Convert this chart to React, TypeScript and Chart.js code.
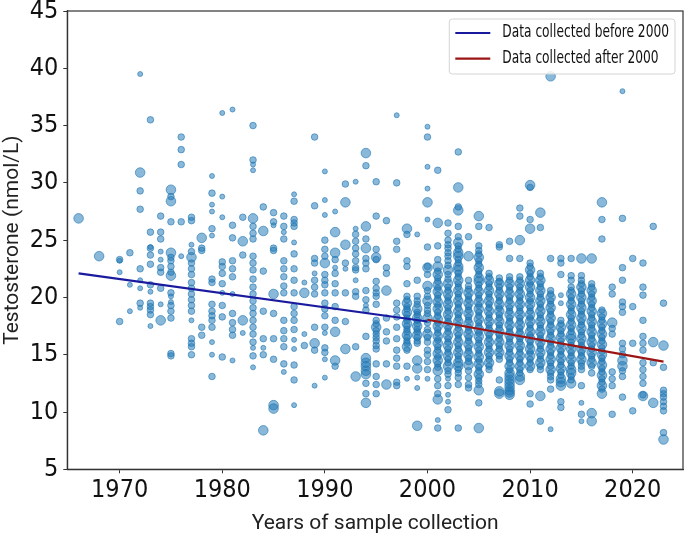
import { useEffect, useRef } from 'react';
import Chart from 'chart.js/auto';

// testosterone (nmol/L) per study, grouped by year of sample collection
// each entry: [value, study size class 1..3]
const studiesByYear: Record<number, [number, number][]> = {
  1966: [[26.9, 3]],
  1968: [[23.6, 3]],
  1970: [[23.3, 2], [23.2, 1], [22.2, 1], [17.9, 2]],
  1971: [[23.9, 2], [21.1, 1], [18.8, 1]],
  1972: [[39.5, 1], [30.9, 3], [29.3, 2], [27.7, 2], [22.5, 2], [21.5, 1], [20.8, 1], [19.5, 2], [19.1, 1]],
  1973: [[35.5, 2], [25.7, 2], [24.4, 1], [24.3, 2], [23.7, 2], [22.9, 2], [21.1, 2], [20.5, 1], [19.5, 2], [19.2, 2], [18.9, 2], [18.5, 2], [17.5, 1]],
  1974: [[27.1, 2], [25.7, 2], [25.1, 2], [24.0, 1], [23.3, 1], [22.6, 2], [22.2, 2], [20.8, 2], [19.4, 1], [18.0, 3]],
  1975: [[29.4, 3], [28.8, 2], [28.4, 3], [26.6, 2], [23.9, 3], [23.5, 2], [23.2, 2], [22.7, 2], [22.2, 2], [21.9, 3], [20.4, 2], [20.1, 1], [19.6, 1], [19.3, 2], [18.8, 2], [18.2, 2], [15.1, 2], [14.9, 2]],
  1976: [[34.0, 2], [32.9, 2], [31.6, 2], [26.6, 2], [23.6, 1]],
  1977: [[27.0, 2], [26.7, 2], [24.6, 1], [24.0, 2], [23.5, 3], [23.0, 2], [22.5, 2], [22.0, 2], [21.3, 2], [20.8, 2], [20.3, 2], [19.8, 2], [19.3, 2], [18.8, 2], [18.0, 1], [16.4, 2], [16.0, 2], [15.7, 2], [15.0, 2]],
  1978: [[25.2, 3], [24.3, 2], [24.1, 2], [17.4, 2], [16.7, 2]],
  1979: [[30.6, 1], [29.1, 2], [28.1, 1], [27.5, 1], [26.0, 2], [25.4, 1], [21.6, 2], [21.3, 2], [19.4, 2], [18.8, 2], [18.4, 2], [18.0, 2], [17.4, 2], [16.1, 1], [15.0, 1], [13.1, 2]],
  1980: [[36.1, 1], [28.8, 1], [27.0, 1], [23.1, 2], [22.7, 2], [22.1, 2], [21.2, 2], [20.4, 1], [19.3, 2], [18.3, 2], [14.8, 2]],
  1981: [[36.4, 1], [26.3, 2], [25.2, 2], [23.2, 2], [22.5, 2], [21.8, 2], [20.3, 1], [18.6, 2], [17.8, 2], [17.2, 2], [16.7, 2], [14.5, 1]],
  1982: [[27.0, 2], [24.9, 3], [23.7, 2], [18.0, 3], [16.9, 1]],
  1983: [[35.0, 2], [32.0, 2], [31.6, 1], [31.1, 1], [26.9, 3], [26.2, 2], [25.6, 2], [25.1, 2], [23.6, 2], [23.0, 2], [22.4, 2], [21.6, 2], [20.9, 2], [20.3, 2], [19.7, 2], [19.1, 2], [18.6, 2], [18.0, 2], [17.4, 2], [16.8, 2], [16.1, 2], [15.6, 1], [14.9, 2], [13.9, 1]],
  1984: [[27.9, 2], [25.8, 3], [22.3, 2], [18.8, 2], [16.4, 2], [15.6, 1], [15.0, 2], [8.4, 3]],
  1985: [[27.4, 2], [26.6, 2], [26.3, 1], [24.3, 2], [24.1, 2], [20.3, 3], [18.6, 2], [16.4, 2], [14.6, 2], [10.6, 3], [10.3, 3]],
  1986: [[27.1, 2], [26.2, 2], [25.7, 1], [25.1, 2], [23.2, 2], [22.5, 2], [21.8, 2], [21.0, 2], [20.4, 2], [18.0, 2], [17.1, 2], [16.4, 2], [15.7, 2], [14.2, 2], [13.5, 1]],
  1987: [[29.0, 1], [28.4, 2], [26.8, 2], [26.5, 2], [26.2, 2], [24.8, 1], [23.8, 2], [22.5, 2], [21.5, 2], [20.4, 2], [19.2, 2], [18.6, 2], [18.0, 2], [17.2, 2], [16.3, 1], [15.5, 1], [14.1, 2], [12.8, 2], [10.6, 1]],
  1988: [[21.3, 1], [20.4, 3], [16.8, 1], [15.8, 2]],
  1989: [[34.0, 2], [28.0, 2], [23.4, 2], [23.0, 2], [22.1, 1], [21.5, 2], [20.9, 2], [20.3, 2], [17.4, 2], [16.0, 3], [15.4, 2], [12.3, 1]],
  1990: [[31.0, 1], [28.5, 1], [27.2, 1], [25.0, 2], [24.2, 2], [23.6, 2], [23.0, 3], [22.0, 2], [21.5, 2], [21.1, 2], [20.4, 2], [19.5, 2], [19.0, 2], [18.4, 2], [17.4, 2], [16.9, 1], [15.6, 2], [15.2, 2], [14.6, 1], [13.0, 1]],
  1991: [[27.5, 1], [25.7, 3], [23.9, 3], [23.3, 2], [22.6, 1], [22.1, 2], [21.2, 2], [20.4, 2], [19.2, 2], [18.0, 2], [17.0, 3], [14.5, 3], [14.0, 2]],
  1992: [[29.9, 2], [28.3, 3], [24.6, 3], [23.0, 2], [22.5, 1], [20.4, 2], [17.9, 2], [15.5, 3]],
  1993: [[30.1, 1], [26.0, 1], [25.5, 2], [24.9, 2], [24.3, 2], [23.8, 2], [23.2, 2], [22.6, 2], [22.4, 2], [21.5, 1], [20.5, 2], [20.1, 2], [15.7, 2], [13.1, 3]],
  1994: [[32.6, 3], [31.5, 2], [26.2, 3], [25.1, 2], [24.3, 3], [23.4, 2], [23.0, 2], [22.5, 2], [20.6, 2], [19.8, 2], [19.3, 1], [18.9, 2], [16.6, 2], [14.7, 3], [14.3, 3], [14.0, 3], [13.6, 3], [13.3, 3], [12.5, 2], [11.6, 2], [10.8, 3]],
  1995: [[30.1, 2], [27.1, 2], [24.2, 2], [23.5, 3], [23.3, 2], [21.4, 2], [20.8, 2], [20.4, 2], [20.1, 2], [19.4, 2], [18.0, 2], [17.7, 2], [17.4, 3], [17.1, 2], [16.8, 2], [16.5, 2], [16.2, 2], [15.8, 2], [15.5, 2], [14.2, 2], [13.1, 2], [12.4, 2], [11.6, 2]],
  1996: [[26.7, 2], [22.6, 2], [22.1, 2], [20.6, 3], [18.2, 2], [17.0, 2], [16.2, 2], [14.2, 2], [12.4, 3]],
  1997: [[35.9, 1], [30.0, 2], [24.9, 2], [24.2, 2], [19.5, 2], [18.9, 2], [18.3, 2], [17.4, 2], [16.4, 2], [15.4, 2], [14.7, 2], [14.0, 2], [12.6, 2], [12.3, 2]],
  1998: [[26.0, 3], [25.5, 2], [23.2, 2], [22.7, 2], [21.2, 2], [20.1, 2], [19.8, 2], [19.5, 3], [19.2, 2], [19.0, 2], [18.7, 3], [18.5, 2], [18.2, 2], [18.0, 2], [17.7, 3], [17.5, 2], [17.2, 2], [17.0, 2], [16.7, 3], [16.5, 2], [16.2, 2], [16.0, 2], [15.7, 3], [15.4, 2], [14.0, 2], [12.9, 1]],
  1999: [[25.5, 1], [21.5, 2], [20.1, 2], [19.7, 2], [19.4, 2], [19.0, 3], [18.7, 2], [18.5, 2], [18.2, 3], [18.0, 2], [17.7, 2], [17.5, 3], [17.2, 2], [17.0, 2], [16.7, 3], [16.5, 2], [16.2, 2], [16.0, 2], [14.5, 3], [13.8, 3], [13.0, 1], [12.1, 1], [8.8, 3]],
  2000: [[34.9, 1], [34.0, 2], [31.4, 1], [29.5, 1], [28.3, 3], [26.8, 1], [24.4, 2], [22.7, 2], [22.6, 3], [22.0, 2], [21.0, 3], [20.6, 2], [20.1, 2], [19.7, 3], [19.3, 2], [18.9, 2], [18.6, 2], [18.2, 3], [17.8, 2], [17.2, 2], [16.8, 3], [16.5, 2], [16.1, 2], [15.4, 2], [15.0, 2], [14.4, 2], [13.7, 2], [12.9, 1]],
  2001: [[31.1, 2], [26.5, 3], [24.5, 2], [23.3, 2], [22.7, 3], [22.3, 2], [22.0, 3], [21.7, 2], [21.4, 2], [21.1, 3], [20.8, 2], [20.5, 3], [20.2, 2], [19.9, 2], [19.6, 3], [19.3, 2], [19.0, 3], [18.7, 2], [18.4, 2], [18.1, 3], [17.8, 2], [17.5, 3], [17.2, 2], [16.9, 2], [16.6, 3], [16.3, 2], [16.0, 3], [15.7, 2], [15.4, 2], [15.1, 3], [14.8, 2], [14.5, 3], [14.2, 2], [13.9, 2], [13.6, 3], [12.9, 2], [12.3, 2], [11.6, 2], [11.1, 3], [9.3, 1], [8.6, 2]],
  2002: [[26.5, 2], [25.6, 2], [25.0, 2], [24.6, 2], [24.3, 2], [23.9, 2], [23.6, 2], [23.2, 2], [22.8, 2], [22.4, 3], [22.0, 2], [21.6, 2], [21.2, 3], [20.9, 2], [20.6, 2], [20.3, 3], [20.0, 2], [19.7, 2], [19.4, 3], [19.1, 2], [18.8, 2], [18.5, 3], [18.2, 2], [17.9, 2], [17.6, 3], [17.3, 2], [17.0, 2], [16.7, 3], [16.4, 2], [16.1, 2], [15.8, 3], [15.5, 2], [15.2, 2], [14.9, 3], [14.6, 2], [14.3, 2], [14.0, 3], [13.6, 2], [13.3, 2], [12.9, 1], [12.3, 2], [11.5, 1], [10.9, 1], [10.2, 2]],
  2003: [[32.7, 2], [29.6, 3], [27.9, 2], [27.6, 3], [26.2, 2], [25.3, 2], [24.8, 3], [24.5, 2], [24.2, 2], [23.9, 3], [23.6, 3], [23.3, 2], [23.0, 2], [22.7, 3], [22.4, 3], [22.1, 2], [21.8, 2], [21.5, 3], [21.2, 2], [20.9, 2], [20.6, 3], [20.3, 2], [20.0, 2], [19.7, 3], [19.4, 2], [19.1, 2], [18.8, 3], [18.5, 2], [18.2, 2], [17.9, 3], [17.6, 2], [17.3, 2], [17.0, 3], [16.7, 2], [16.4, 2], [16.1, 3], [15.8, 2], [15.5, 2], [15.2, 3], [14.9, 2], [14.6, 2], [14.3, 3], [14.0, 3], [13.7, 2], [13.4, 2], [13.0, 2], [12.4, 2], [8.6, 2]],
  2004: [[25.3, 2], [23.6, 3], [21.5, 2], [21.0, 2], [20.7, 2], [20.4, 3], [20.1, 2], [19.8, 2], [19.5, 3], [19.2, 2], [18.9, 2], [18.6, 3], [18.3, 2], [18.0, 2], [17.7, 3], [17.4, 2], [17.1, 2], [16.8, 3], [16.5, 2], [16.2, 2], [15.9, 3], [15.6, 2], [15.3, 2], [15.0, 3], [14.7, 2], [14.4, 2], [14.1, 3], [13.6, 2], [13.0, 2], [12.4, 2], [12.1, 2]],
  2005: [[27.1, 3], [26.2, 2], [24.5, 2], [24.1, 2], [23.8, 2], [23.5, 3], [23.2, 2], [22.9, 2], [22.6, 3], [22.3, 2], [22.0, 2], [21.7, 3], [21.4, 3], [21.1, 2], [20.8, 2], [20.5, 3], [20.2, 2], [19.9, 2], [19.6, 3], [19.3, 2], [19.0, 3], [18.7, 2], [18.4, 2], [18.1, 3], [17.8, 2], [17.5, 2], [17.2, 3], [16.9, 2], [16.6, 3], [16.3, 2], [16.0, 2], [15.7, 3], [15.4, 2], [15.1, 2], [14.8, 3], [14.5, 2], [14.2, 3], [13.9, 2], [13.6, 2], [13.3, 3], [13.0, 2], [12.7, 2], [12.4, 2], [11.9, 3], [10.8, 2], [8.6, 3]],
  2006: [[26.1, 2], [22.1, 2], [21.8, 2], [21.5, 3], [21.2, 2], [20.9, 2], [20.6, 3], [20.3, 2], [20.0, 2], [19.7, 3], [19.4, 2], [19.1, 2], [18.8, 3], [18.5, 2], [18.2, 2], [17.9, 3], [17.6, 2], [17.3, 2], [17.0, 3], [16.7, 2], [16.4, 2], [16.1, 3], [15.8, 2], [15.5, 2], [15.2, 3], [14.9, 2], [14.6, 2], [14.3, 3], [14.0, 2], [13.7, 2]],
  2007: [[24.6, 2], [24.4, 2], [21.7, 2], [21.4, 2], [21.2, 3], [20.9, 2], [20.6, 2], [20.3, 3], [20.0, 2], [19.7, 2], [19.4, 3], [19.1, 2], [18.8, 3], [18.5, 2], [18.2, 2], [17.9, 3], [17.6, 2], [17.3, 2], [17.0, 3], [16.7, 2], [16.4, 2], [16.1, 3], [15.8, 2], [15.5, 2], [15.2, 3], [14.9, 2], [14.6, 2], [12.8, 2], [11.8, 3], [11.6, 3]],
  2008: [[24.9, 2], [23.4, 2], [21.8, 2], [21.5, 2], [21.2, 3], [20.9, 2], [20.6, 2], [20.3, 3], [20.0, 2], [19.7, 2], [19.4, 3], [19.1, 2], [18.8, 2], [18.5, 3], [18.2, 2], [17.9, 2], [17.6, 3], [17.3, 2], [17.0, 2], [16.7, 3], [16.4, 2], [16.1, 2], [15.8, 3], [15.5, 2], [15.2, 2], [14.9, 3], [14.6, 2], [14.3, 2], [14.0, 3], [13.7, 2], [13.4, 3], [13.1, 3], [12.8, 3], [12.5, 3], [12.2, 3], [11.9, 3], [11.7, 3], [11.5, 3]],
  2009: [[27.8, 2], [27.1, 2], [25.0, 3], [23.4, 2], [21.8, 2], [21.5, 2], [21.2, 3], [20.9, 2], [20.6, 2], [20.3, 3], [20.0, 2], [19.7, 2], [19.4, 3], [19.1, 2], [18.8, 2], [18.5, 3], [18.2, 2], [17.9, 2], [17.6, 3], [17.3, 2], [17.0, 2], [16.7, 3], [16.4, 2], [16.1, 2], [15.8, 3], [15.5, 2], [15.2, 2], [14.9, 3], [14.6, 2], [14.3, 2], [14.0, 3], [13.7, 2], [13.4, 2], [13.1, 3], [12.8, 3]],
  2010: [[29.8, 3], [29.6, 2], [26.8, 2], [26.0, 3], [23.0, 2], [22.7, 2], [22.4, 3], [22.1, 2], [21.8, 2], [21.5, 3], [21.2, 2], [20.9, 3], [20.6, 2], [20.3, 2], [20.0, 3], [19.7, 2], [19.4, 3], [19.1, 2], [18.8, 2], [18.5, 3], [18.2, 2], [17.9, 3], [17.6, 2], [17.3, 2], [17.0, 3], [16.7, 2], [16.4, 3], [16.1, 2], [15.8, 2], [15.5, 3], [15.2, 2], [14.9, 3], [14.6, 2], [14.3, 2], [14.0, 3], [13.7, 2], [11.6, 2], [10.7, 2]],
  2011: [[27.4, 3], [26.1, 2], [22.1, 2], [21.8, 2], [21.5, 3], [21.2, 2], [20.9, 2], [20.6, 3], [20.3, 2], [20.0, 2], [19.7, 3], [19.4, 2], [19.1, 2], [18.8, 3], [18.5, 2], [18.2, 2], [17.9, 3], [17.6, 2], [17.3, 2], [17.0, 3], [16.7, 2], [16.4, 2], [16.1, 3], [15.8, 2], [15.5, 2], [15.2, 3], [14.9, 2], [14.6, 2], [14.3, 3], [14.0, 2], [13.7, 2], [11.4, 3], [9.2, 2]],
  2012: [[39.3, 3], [23.4, 2], [20.6, 2], [20.3, 2], [20.0, 3], [19.7, 2], [19.4, 2], [19.1, 3], [18.8, 2], [18.5, 2], [18.2, 3], [17.9, 2], [17.6, 2], [17.3, 3], [17.0, 2], [16.7, 2], [16.4, 3], [16.1, 2], [15.8, 2], [15.5, 3], [15.2, 2], [14.9, 2], [14.6, 3], [14.3, 2], [14.0, 2], [13.7, 3], [13.4, 2], [13.1, 2], [12.8, 2], [12.0, 2], [8.5, 1]],
  2013: [[23.4, 2], [23.0, 2], [22.0, 2], [20.2, 1], [19.5, 1], [18.0, 2], [17.7, 2], [17.4, 3], [17.1, 2], [16.8, 2], [16.5, 3], [16.2, 2], [15.9, 2], [15.6, 3], [15.3, 2], [15.0, 2], [14.7, 3], [14.4, 2], [14.1, 2], [13.8, 3], [13.5, 2], [13.2, 2], [12.9, 3], [12.6, 3], [12.3, 3], [10.9, 2], [10.4, 2]],
  2014: [[23.4, 2], [21.9, 2], [21.5, 2], [20.9, 2], [20.6, 2], [20.3, 3], [20.0, 2], [19.7, 2], [19.4, 3], [19.1, 2], [18.8, 2], [18.5, 3], [18.2, 2], [17.9, 2], [17.6, 3], [17.3, 2], [17.0, 2], [16.7, 3], [16.4, 3], [16.1, 2], [15.8, 2], [15.5, 3], [15.2, 2], [14.9, 2], [14.6, 3], [14.3, 2], [14.0, 2], [13.7, 3], [13.4, 3], [13.1, 2], [12.8, 2], [12.5, 3]],
  2015: [[23.4, 3], [21.9, 2], [21.5, 2], [21.2, 2], [20.9, 3], [20.6, 2], [20.3, 2], [20.0, 3], [19.7, 2], [19.4, 2], [19.1, 3], [18.8, 2], [18.5, 2], [18.2, 3], [17.9, 2], [17.6, 2], [17.3, 3], [17.0, 2], [16.7, 2], [16.4, 3], [16.1, 2], [15.8, 2], [15.5, 3], [15.2, 2], [14.9, 2], [14.6, 3], [14.3, 2], [14.0, 2], [13.7, 2], [12.3, 2], [10.8, 1], [9.8, 2], [9.2, 1]],
  2016: [[23.4, 3], [21.2, 2], [20.9, 2], [20.6, 3], [20.3, 2], [20.0, 2], [19.7, 3], [19.4, 2], [19.1, 2], [18.8, 3], [18.5, 2], [18.2, 2], [17.9, 3], [17.6, 2], [17.3, 2], [17.0, 3], [16.7, 2], [16.4, 2], [16.1, 3], [15.8, 2], [15.5, 2], [15.2, 3], [14.9, 2], [14.6, 2], [14.3, 3], [14.0, 2], [13.4, 2], [9.9, 3], [9.2, 3]],
  2017: [[28.3, 3], [26.8, 2], [25.1, 2], [18.9, 2], [18.6, 3], [18.3, 2], [18.0, 2], [17.7, 3], [17.4, 2], [17.1, 2], [16.8, 3], [16.5, 2], [16.2, 2], [15.9, 3], [15.6, 2], [15.3, 2], [15.0, 3], [14.7, 2], [14.4, 2], [14.1, 3], [13.8, 2], [13.5, 2], [13.2, 3], [12.9, 2], [12.6, 2], [12.3, 3], [12.0, 2], [11.6, 3]],
  2018: [[20.9, 2], [20.3, 2], [17.8, 3], [17.3, 2], [16.8, 2], [13.5, 2], [12.9, 2], [12.3, 2], [9.8, 2]],
  2019: [[38.0, 1], [26.9, 2], [22.6, 2], [21.5, 2], [19.6, 2], [19.2, 2], [18.7, 2], [16.0, 2], [15.5, 2], [15.0, 2], [14.5, 3], [14.0, 3], [13.6, 2], [13.1, 2], [11.3, 2]],
  2020: [[23.4, 2], [19.2, 2], [16.0, 2], [10.1, 2]],
  2021: [[23.0, 2], [20.9, 2], [20.2, 2], [18.0, 2], [16.6, 2], [16.0, 2], [15.4, 2], [14.3, 2], [13.7, 2], [13.1, 2], [12.5, 2], [11.5, 2], [11.4, 3]],
  2022: [[26.2, 2], [16.1, 3], [14.3, 2], [10.8, 3]],
  2023: [[19.5, 2], [15.8, 3], [13.9, 2], [11.9, 2], [11.6, 2], [11.3, 2], [10.9, 2], [10.5, 2], [10.1, 2], [8.2, 2], [7.6, 3]],
};

// fitted trends
const trendBeforeYears = [1966, 2000];
const trendBeforeValues = [22.1, 17.9];
const trendAfterYears = [2000, 2023];
const trendAfterValues = [18.05, 14.4];

const xTicks = [1970, 1980, 1990, 2000, 2010, 2020];
const yTicks = [5, 10, 15, 20, 25, 30, 35, 40, 45];

const radiusBySize = [0, 2.5, 3.3, 4.8];
const narrow = "'Liberation Sans Narrow', 'DejaVu Sans Condensed', sans-serif";

// matplotlib-style frame + boxed legend
const framePlugin = {
  id: 'frameAndLegend',
  afterDraw(chart: any) {
    const { ctx, chartArea } = chart;
    ctx.save();
    ctx.strokeStyle = '#333';
    ctx.lineWidth = 1.2;
    ctx.strokeRect(chartArea.left, chartArea.top, chartArea.right - chartArea.left, chartArea.bottom - chartArea.top);

    const items = chart.data.datasets.filter((d: any) => d.type === 'line');
    const squeeze = 0.8;
    ctx.font = `17px ${narrow}`;
    const textW = squeeze * Math.max(...items.map((d: any) => ctx.measureText(d.label).width));
    const w = 6 + 35 + 12 + textW + 6;
    const h = 55;
    const x = chartArea.right - 8 - w;
    const y = chartArea.top + 8;
    ctx.beginPath();
    ctx.roundRect(x, y, w, h, 3);
    ctx.fillStyle = 'rgba(255,255,255,0.85)';
    ctx.fill();
    ctx.strokeStyle = '#d4d4d4';
    ctx.lineWidth = 1;
    ctx.stroke();
    items.forEach((d: any, i: number) => {
      const cy = y + 14 + i * 25.7;
      ctx.beginPath();
      ctx.strokeStyle = d.borderColor;
      ctx.lineWidth = 2.2;
      ctx.moveTo(x + 6, cy);
      ctx.lineTo(x + 41, cy);
      ctx.stroke();
      ctx.save();
      ctx.translate(x + 53, cy);
      ctx.scale(squeeze, 1);
      ctx.fillStyle = '#111';
      ctx.textBaseline = 'middle';
      ctx.textAlign = 'left';
      ctx.fillText(d.label, 0, 0);
      ctx.restore();
    });
    ctx.restore();
  },
};

export default function App() {
  const canvasRef = useRef<HTMLCanvasElement>(null);
  const chartRef = useRef<Chart | null>(null);

  useEffect(() => {
    if (!canvasRef.current) return;
    if (chartRef.current) chartRef.current.destroy();

    const points = Object.entries(studiesByYear).flatMap(([year, list]) =>
      list.map(([value, size]) => ({ x: Number(year), y: value, r: radiusBySize[size] })),
    );
    const tickFont = { family: narrow, size: 25 };
    const titleFont = { family: 'Roboto', size: 21 };

    chartRef.current = new Chart(canvasRef.current, {
      type: 'bubble',
      data: {
        datasets: [
          {
            type: 'line',
            label: 'Data collected before 2000',
            data: trendBeforeYears.map((x, i) => ({ x, y: trendBeforeValues[i] })),
            borderColor: '#1a1a9e',
            borderWidth: 2.2,
            pointRadius: 0,
            fill: false,
            order: 0,
          },
          {
            type: 'line',
            label: 'Data collected after 2000',
            data: trendAfterYears.map((x, i) => ({ x, y: trendAfterValues[i] })),
            borderColor: '#9c1515',
            borderWidth: 2.2,
            pointRadius: 0,
            fill: false,
            order: 0,
          },
          {
            type: 'bubble',
            label: 'Studies',
            data: points,
            backgroundColor: 'rgba(31,119,180,0.52)',
            borderColor: 'rgba(31,119,180,0.6)',
            borderWidth: 1,
            order: 1,
          },
        ] as any,
      },
      options: {
        animation: false,
        responsive: true,
        maintainAspectRatio: false,
        layout: { autoPadding: false, padding: { top: 11, right: 2, left: 0, bottom: 0 } },
        plugins: { legend: { display: false }, tooltip: { enabled: false } },
        scales: {
          x: {
            type: 'linear',
            min: 1964.9,
            max: 2024.9,
            afterBuildTicks: (s: any) => { s.ticks = xTicks.map((value) => ({ value })); },
            afterFit: (s: any) => { s.height = 66.7; s.paddingLeft = 0; s.paddingRight = 0; },
            grid: { drawOnChartArea: false, tickLength: 4, color: '#333' },
            border: { color: '#333', width: 1.2 },
            ticks: { color: '#111', font: tickFont, padding: 2, maxRotation: 0, autoSkip: false, callback: (v: any) => String(v) },
            title: { display: true, text: 'Years of sample collection', color: '#222', font: titleFont, padding: { top: 0, bottom: 0 } },
          },
          y: {
            type: 'linear',
            min: 5,
            max: 45,
            afterBuildTicks: (s: any) => { s.ticks = yTicks.map((value) => ({ value })); },
            afterFit: (s: any) => { s.width = 67.3; s.paddingTop = 0; s.paddingBottom = 0; },
            grid: { drawOnChartArea: false, tickLength: 4, color: '#333' },
            border: { color: '#333', width: 1.2 },
            ticks: { color: '#111', font: tickFont, padding: 5, autoSkip: false, callback: (v: any) => String(v) },
            title: { display: true, text: 'Testosterone (nmol/L)', color: '#222', font: titleFont, padding: { top: 0, bottom: 0 } },
          },
        },
      },
      plugins: [framePlugin],
    });

    return () => chartRef.current?.destroy();
  }, []);

  return (
    <div style={{ position: 'fixed', left: 0, top: 0, width: 685, height: 536, background: '#fff' }}>
      <canvas ref={canvasRef} />
    </div>
  );
}
